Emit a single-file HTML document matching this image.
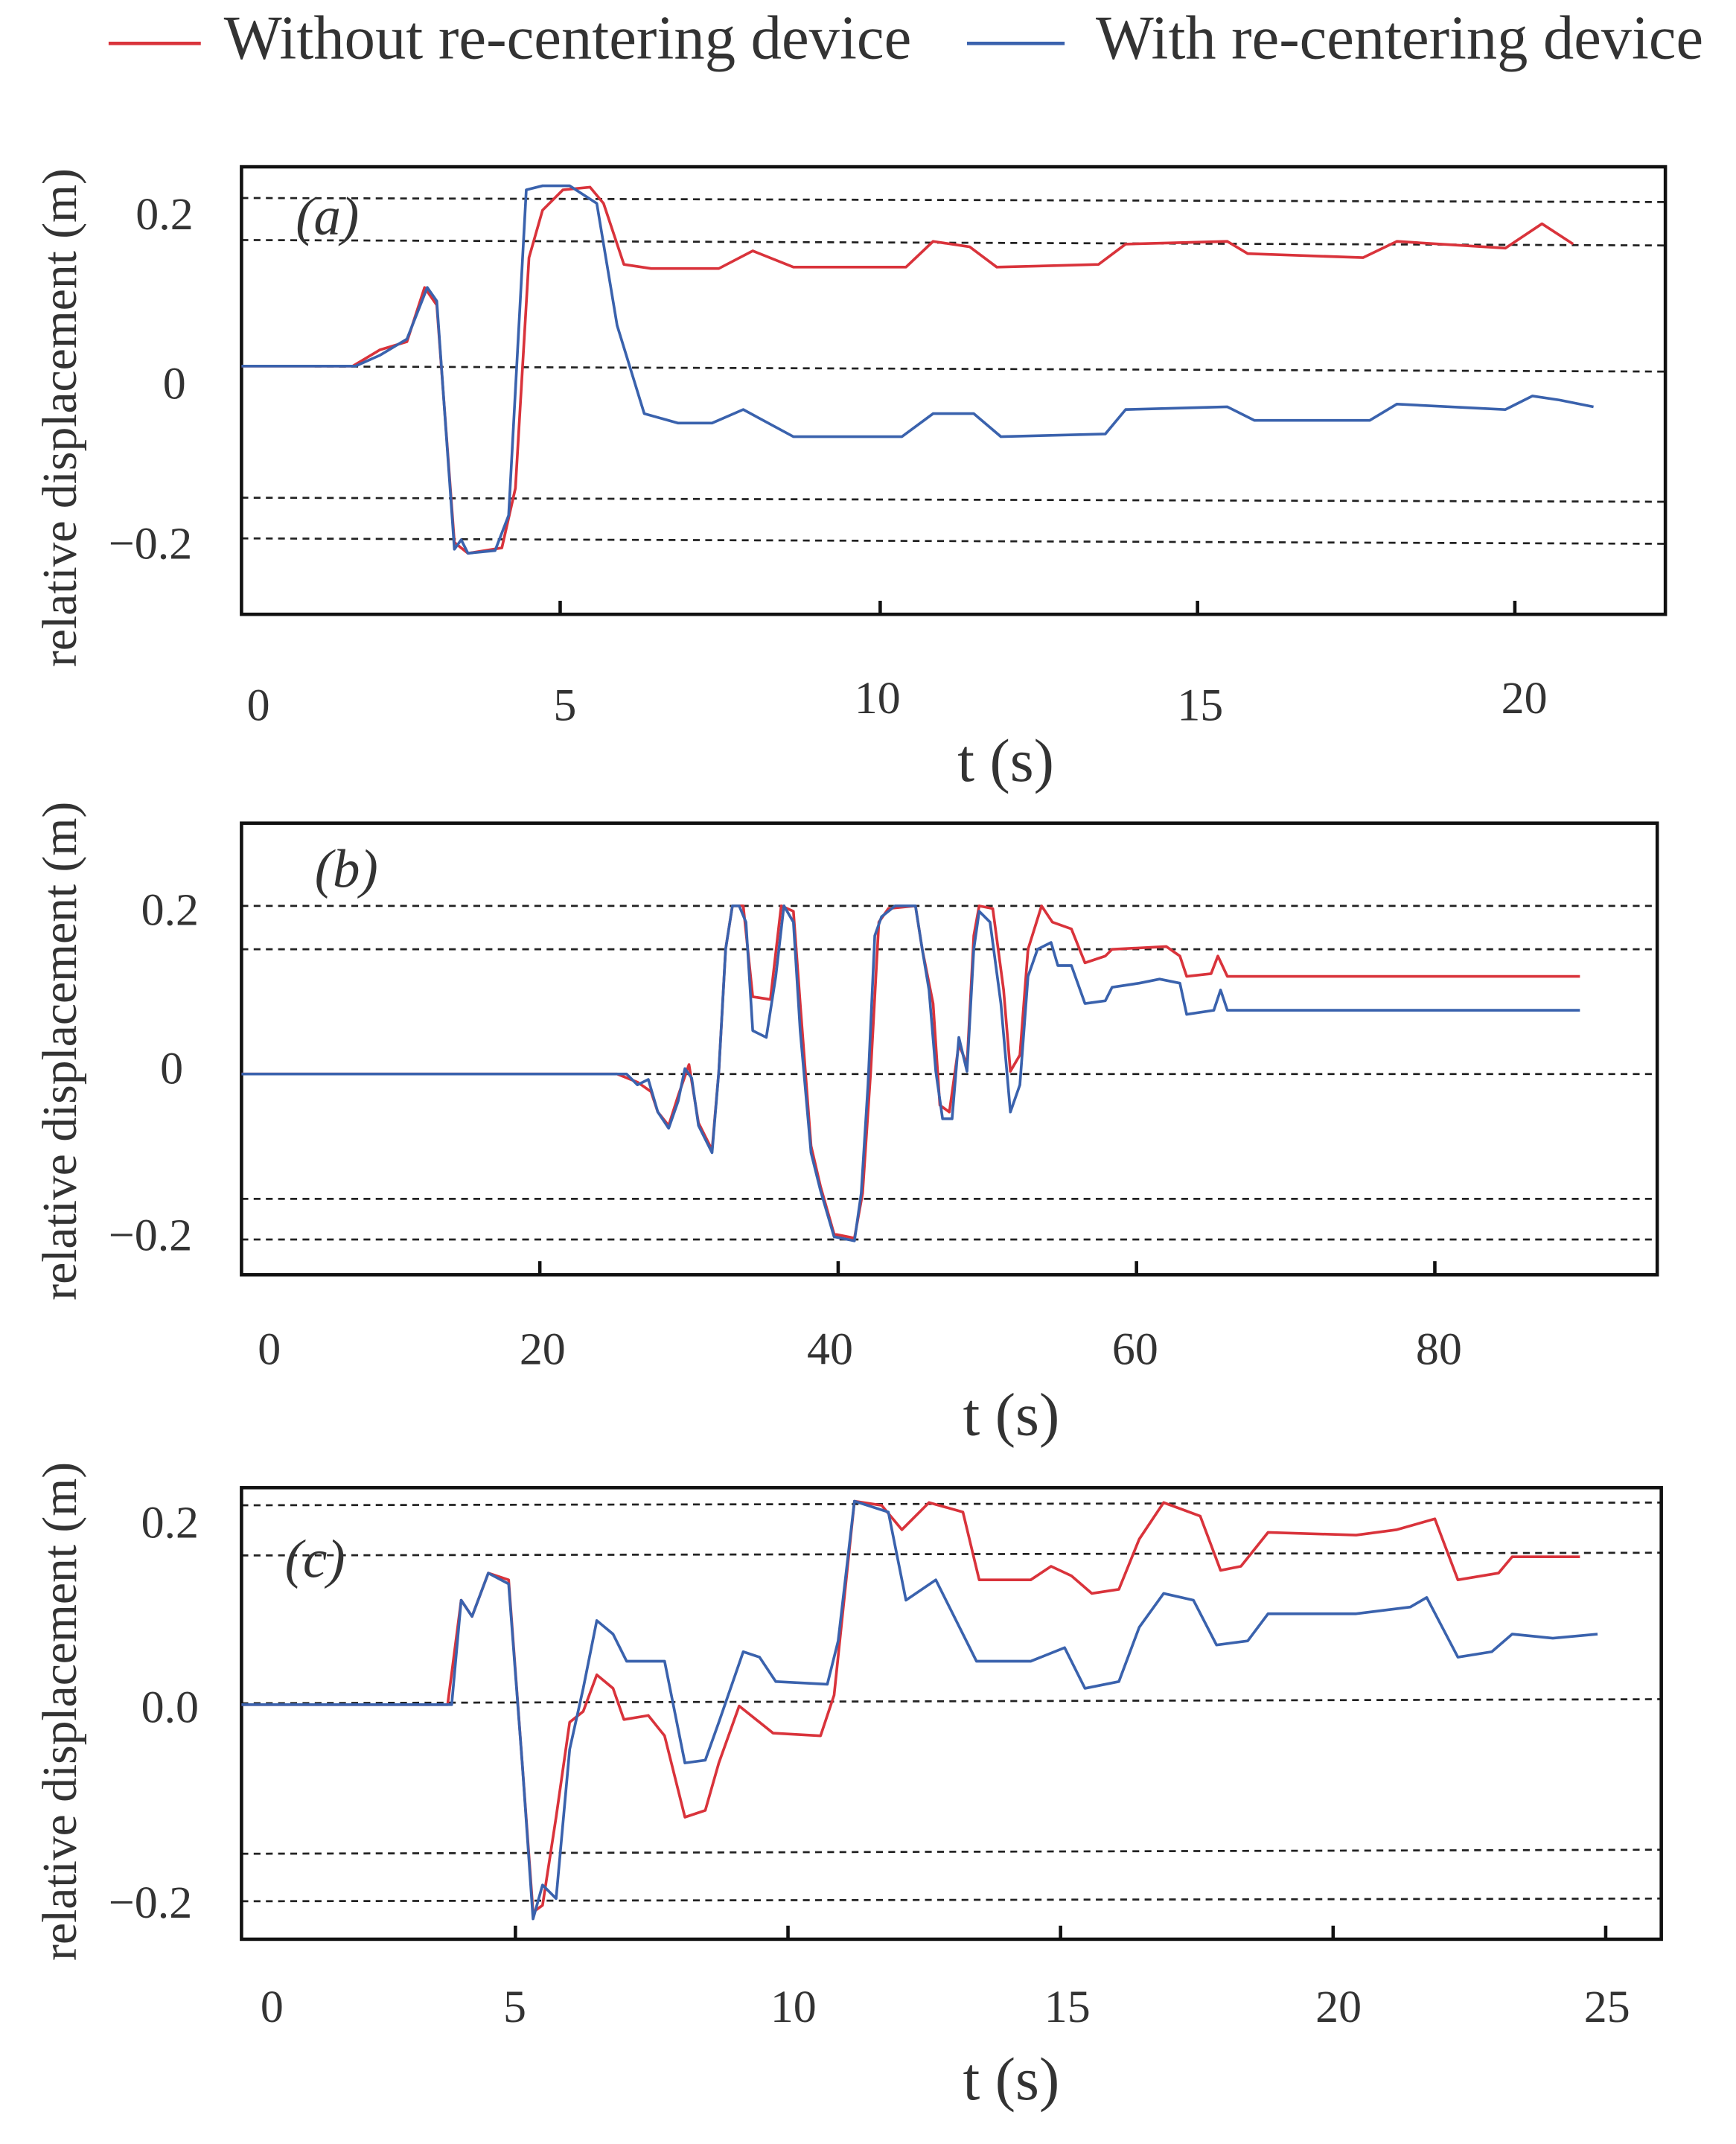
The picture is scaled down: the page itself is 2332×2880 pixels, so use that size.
<!DOCTYPE html>
<html><head><meta charset="utf-8"><style>html,body{margin:0;padding:0;background:#fff}svg{display:block}</style></head>
<body>
<svg width="2332" height="2880" viewBox="0 0 1280 1581" xmlns="http://www.w3.org/2000/svg" font-family="Liberation Serif, serif" fill="#333">
<rect width="1280" height="1581" fill="#fff"/>
<line x1="80" y1="32" x2="148" y2="32" stroke="#d9333b" stroke-width="2.5"/>
<text x="165" y="43" font-size="46" textLength="507" lengthAdjust="spacingAndGlyphs">Without re-centering device</text>
<line x1="713" y1="32" x2="785" y2="32" stroke="#3a62ad" stroke-width="2.5"/>
<text x="808" y="43" font-size="46" textLength="448" lengthAdjust="spacingAndGlyphs">With re-centering device</text>

<g stroke="#222" stroke-width="1.5" stroke-dasharray="5,4" fill="none">
<line x1="178" y1="146" x2="1228" y2="149"/><line x1="178" y1="177" x2="1228" y2="181"/><line x1="178" y1="270" x2="1228" y2="274"/><line x1="178" y1="367" x2="1228" y2="370"/><line x1="178" y1="397" x2="1228" y2="401"/>
<line x1="178" y1="668" x2="1222" y2="668"/><line x1="178" y1="700" x2="1222" y2="700"/><line x1="178" y1="792" x2="1222" y2="792"/><line x1="178" y1="884" x2="1222" y2="884"/><line x1="178" y1="914" x2="1222" y2="914"/>
<line x1="178" y1="1110" x2="1225" y2="1108"/><line x1="178" y1="1147" x2="1225" y2="1145"/><line x1="178" y1="1256" x2="1225" y2="1253"/><line x1="178" y1="1367" x2="1225" y2="1364"/><line x1="178" y1="1402" x2="1225" y2="1400"/>
</g>
<g stroke="#111" stroke-width="2.5" fill="none">
<rect x="178" y="123" width="1050" height="330"/>
<rect x="178" y="607" width="1044" height="333"/>
<rect x="178" y="1097" width="1047" height="333"/>
<path d="M413 453v-10M649 453v-10M883 453v-10M1117 453v-10M398 940v-10M618 940v-10M838 940v-10M1058 940v-10M380 1430v-10M581 1430v-10M782 1430v-10M983 1430v-10M1184 1430v-10"/>
</g>
<g font-size="34">
<text x="100" y="169">0.2</text><text x="120" y="294">0</text><text x="80" y="412">−0.2</text>
<text x="182" y="531">0</text><text x="408" y="531">5</text><text x="630" y="526">10</text><text x="868" y="531">15</text><text x="1107" y="526">20</text>
<text x="104" y="682">0.2</text><text x="118" y="799">0</text><text x="80" y="922">−0.2</text>
<text x="190" y="1006">0</text><text x="383" y="1006">20</text><text x="595" y="1006">40</text><text x="820" y="1006">60</text><text x="1044" y="1006">80</text>
<text x="104" y="1134">0.2</text><text x="104" y="1270">0.0</text><text x="80" y="1414">−0.2</text>
<text x="192" y="1491">0</text><text x="371" y="1491">5</text><text x="568" y="1491">10</text><text x="770" y="1491">15</text><text x="970" y="1491">20</text><text x="1168" y="1491">25</text>
</g>
<g font-size="40" font-style="italic"><text x="218" y="173">(a)</text><text x="232" y="654">(b)</text><text x="210" y="1163">(c)</text></g>
<g font-size="45"><text x="706" y="576">t (s)</text><text x="710" y="1058">t (s)</text><text x="710" y="1548">t (s)</text></g>
<g font-size="36">
<text transform="translate(56,308) rotate(-90)" text-anchor="middle">relative displacement (m)</text>
<text transform="translate(56,775) rotate(-90)" text-anchor="middle">relative displacement (m)</text>
<text transform="translate(56,1262) rotate(-90)" text-anchor="middle">relative displacement (m)</text>
</g>
<g fill="none" stroke-width="2" stroke-linejoin="round">
<polyline stroke="#d9333b" points="178,270 260,270 280,258 300,252 313,212 322,225 335,400 345,408 370,404 380,360 390,190 400,155 415,140 435,138 445,150 460,195 480,198 530,198 555,185 585,197 668,197 688,178 715,182 735,197 810,195 830,180 905,178 920,187 1005,190 1030,178 1110,183 1137,165 1160,180"/>
<polyline stroke="#3a62ad" points="178,270 262,270 280,262 300,250 315,212 322,222 335,405 340,398 345,408 365,406 375,380 388,140 400,137 420,137 440,150 455,240 475,305 500,312 525,312 548,302 585,322 665,322 688,305 718,305 738,322 815,320 830,302 905,300 925,310 1010,310 1030,298 1110,302 1130,292 1150,295 1175,300"/>
<polyline stroke="#d9333b" points="178,792 455,792 470,798 480,805 485,820 493,830 500,808 508,785 515,828 525,848 530,790 535,700 540,668 548,668 555,735 568,737 576,668 585,672 590,740 598,845 605,875 615,910 630,913 636,880 642,790 648,680 655,670 675,668 680,700 688,740 693,815 700,820 707,770 713,785 718,690 722,668 732,670 740,730 745,790 752,778 758,700 768,668 776,680 790,685 800,710 815,705 820,700 860,698 870,705 875,720 893,718 898,705 905,720 920,720 1165,720"/>
<polyline stroke="#3a62ad" points="178,792 462,792 470,800 478,796 485,820 493,832 500,812 505,788 510,795 515,830 525,850 530,790 535,700 540,668 545,668 550,680 555,760 565,765 572,720 578,668 585,680 590,760 598,850 605,878 615,912 630,915 635,880 640,800 645,690 650,676 660,668 675,668 680,700 685,730 690,790 695,825 702,825 707,765 713,790 718,700 722,672 730,680 738,740 745,820 752,800 758,720 765,700 775,695 780,712 790,712 800,740 815,738 820,728 840,725 855,722 870,725 875,748 895,745 900,730 905,745 920,745 1165,745"/>
<polyline stroke="#d9333b" points="178,1257 330,1257 340,1180 348,1192 360,1160 375,1165 385,1300 393,1410 400,1405 410,1340 420,1270 430,1262 440,1235 452,1245 460,1268 478,1265 490,1280 505,1340 520,1335 530,1300 545,1258 560,1270 570,1278 605,1280 615,1250 630,1107 650,1110 665,1128 685,1108 710,1115 722,1165 760,1165 775,1155 790,1162 805,1175 825,1172 840,1135 858,1108 885,1118 900,1158 915,1155 935,1130 1000,1132 1030,1128 1058,1120 1075,1165 1105,1160 1115,1148 1165,1148"/>
<polyline stroke="#3a62ad" points="178,1257 333,1257 340,1180 348,1192 360,1160 375,1168 385,1300 393,1415 400,1390 410,1400 420,1290 430,1245 440,1195 452,1205 462,1225 490,1225 505,1300 520,1298 530,1270 548,1218 560,1222 572,1240 610,1242 618,1210 630,1107 655,1115 668,1180 690,1165 720,1225 760,1225 785,1215 800,1245 825,1240 840,1200 858,1175 880,1180 897,1213 920,1210 935,1190 1000,1190 1040,1185 1052,1178 1075,1222 1100,1218 1115,1205 1145,1208 1178,1205"/>
</g>
</svg>
</body></html>
